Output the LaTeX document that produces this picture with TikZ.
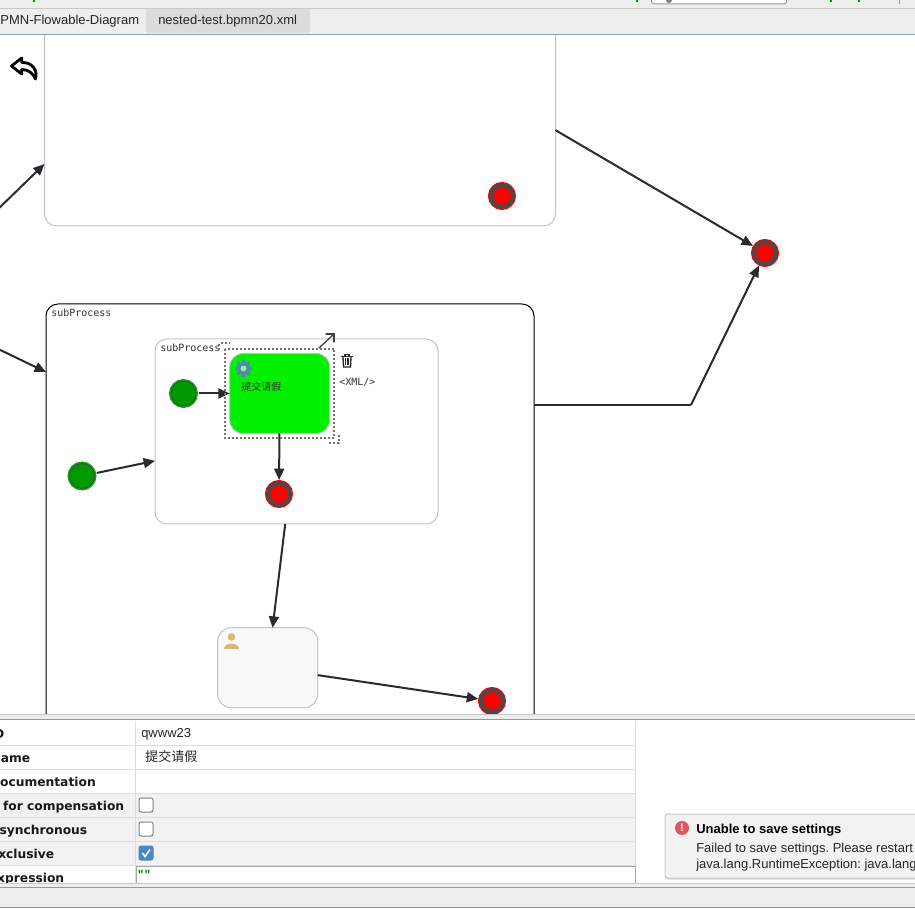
\documentclass[tikz,border=0pt]{standalone}
\usepackage{fontspec}
\usepackage{tikz}
\usetikzlibrary{positioning}
\usetikzlibrary{arrows.meta}
\usetikzlibrary{shapes.geometric}
\setmainfont{Liberation Sans}
\newfontfamily\uisans{Liberation Sans}
\newfontfamily\uibold{DejaVu Sans}[BoldFont={DejaVu Sans Bold}]
\newfontfamily\bpmnmono{DejaVu Sans Mono}
\newfontfamily\exprmono{Liberation Mono}
\newfontfamily\cjksc{Noto Sans CJK SC}
\frenchspacing

\definecolor{chromebg}{HTML}{EEEEEE}
\definecolor{chromeline}{HTML}{C8C8C8}
\definecolor{tabactive}{HTML}{DCDCDC}
\definecolor{sashblue}{HTML}{8E9DAB}
\definecolor{shapegray}{HTML}{C4C4C8}
\definecolor{flowdark}{HTML}{2B2B2F}
\definecolor{ringdark}{HTML}{4A4A4E}
\definecolor{taskgreen}{HTML}{00F000}
\definecolor{startgreen}{HTML}{009A00}
\definecolor{startring}{HTML}{0BA80B}
\definecolor{taskfill}{HTML}{FAF9F9}
\definecolor{usertan}{HTML}{D9B875}
\definecolor{gearblue}{HTML}{5B82B8}
\definecolor{rowgray}{HTML}{F2F2F2}
\definecolor{rowline}{HTML}{DDDDDD}
\definecolor{checkblue}{HTML}{4A86C8}
\definecolor{alertred}{HTML}{E05561}

\tikzset{
    subproc/.style={draw=shapegray, line width=0.75pt, fill=white, rounded corners=9pt,
        inner sep=0pt, outer sep=0pt},
    taskbox/.style={draw=shapegray, line width=0.75pt, rounded corners=10pt,
        minimum width=75pt, minimum height=60pt, inner sep=0pt, outer sep=0pt},
    startevent/.style={circle, fill=startgreen, draw=ringdark, line width=0.75pt,
        minimum size=18.75pt, inner sep=0pt, outer sep=1.9pt,
        preaction={draw=startring, line width=3pt}},
    endevent/.style={circle, fill=red, draw=ringdark, line width=3pt,
        minimum size=16.5pt, inner sep=0pt, outer sep=2.25pt,
        preaction={draw=red, line width=4.5pt}},
    flow/.style={draw=flowdark, line width=1.5pt,
        -{Stealth[length=8.5pt, width=7.5pt, inset=0pt]}},
    flowplain/.style={draw=flowdark, line width=1.5pt},
    monolabel/.style={font=\bpmnmono\fontsize{7.5}{9}\selectfont, text=black!80,
        anchor=base west, inner sep=0pt},
    handle/.style={draw=black!55, line width=1.5pt, dash pattern=on 1.5pt off 1.5pt},
    rowlabel/.style={font=\uibold\bfseries\fontsize{9.2}{11}\selectfont, text=black!90,
        anchor=base east, inner sep=0pt},
    rowvalue/.style={font=\uisans\fontsize{9.75}{11}\selectfont, text=black!85,
        anchor=base west, inner sep=0pt},
    uitext/.style={font=\uisans\fontsize{9.75}{11}\selectfont, text=black!85,
        anchor=base west, inner sep=0pt},
    checkbox/.style={draw=black!50, line width=0.75pt, fill=white, rounded corners=1.5pt,
        minimum size=10.5pt, inner sep=0pt, outer sep=0pt},
}

\begin{document}
\begin{tikzpicture}[x=0.75pt, y=-0.75pt]
    \useasboundingbox (0,0) rectangle (915,909);
    \fill[white] (0,0) rectangle (915,909);

    \node[subproc, minimum width=383.25pt, minimum height=366pt] (topsub) at (300,-18) {};
    \node[subproc, draw=black, minimum width=366pt, minimum height=444pt] (lowersub) at (290,600) {};
    \node[subproc, minimum width=212.25pt, minimum height=138.75pt] (innersub) at (296.5,431.5) {};

    \node[monolabel] (lowerlabel) at (51,317) {subProcess};
    \node[monolabel] (innerlabel) at (160,352) {subProcess};

    \node[taskbox, fill=taskgreen] (leavetask) at (279.7,393.5) {};
    \node[taskbox, fill=taskfill] (usertask) at (267.7,667.7) {};

    \node[startevent] (startouter) at (82,476) {};
    \node[startevent] (startinner) at (183.5,393.5) {};

    \node[endevent] (endtop) at (502,196) {};
    \node[endevent] (endright) at (765,253) {};
    \node[endevent] (endinner) at (279,494) {};
    \node[endevent] (endlower) at (492,701) {};

    \coordinate (srctop) at (-6,213);
    \coordinate (srclower) at (-6,347);
    \coordinate (topentry) at (0,164);
    \coordinate (lowerentry) at (0,372);
    \coordinate (bend) at (691,405);

    \draw[flow] (srctop) -- (topsub.west |- topentry);
    \draw[flow] (srclower) -- (lowersub.west |- lowerentry);
    \draw[flow] (topsub) -- (endright);
    \draw[flow] (startouter) -- (innersub);
    \draw[flow] (startinner) -- (leavetask);
    \draw[flow] (leavetask) -- (endinner);
    \draw[flow] (innersub) -- (usertask);
    \draw[flow] (usertask) -- (endlower);
    \draw[flowplain] (lowersub.east |- bend) -- (bend);
    \draw[flow] (bend) -- (endright);

    \draw[handle] (224.5,349) rectangle (334,438);
    \draw[handle] (219,350) -- (219,343.5) -- (229,343.5);
    \draw[handle] (329,443) -- (339,443) -- (339,433);

    \draw[draw=black!75, line width=1pt, line cap=round] (319,348) -- (334,334);
    \draw[draw=black!75, line width=1pt, line cap=round] (326,334) -- (334,334) -- (334,342);

    \draw[black!85, line width=1pt] (343,357) -- (343.5,367) -- (350.5,367) -- (351,357);
    \draw[black!85, line width=1pt] (341,356.5) -- (353,356.5);
    \draw[black!85, line width=1pt] (345,356) -- (345,354.5) -- (349,354.5) -- (349,356);
    \foreach \u in {345.6, 347, 348.4}
    {
        \draw[black!85, line width=0.6pt] (\u,358.5) -- (\u,365.5);
    }
    \node[monolabel] (xmllabel) at (339,385.5) {<XML/>};

    \foreach \u in {0, 45, 90, 135}
    {
        \draw[gearblue, line width=2pt] (243.5+8.5*cos \u,368.5-8.5*sin \u) -- (243.5-8.5*cos \u,368.5+8.5*sin \u);
    }
    \fill[gearblue] (243.5,368.5) circle[radius=6.5];
    \fill[taskgreen!45!white] (243.5,368.5) circle[radius=3];
    \node[font=\cjksc\fontsize{7.5}{9}\selectfont, text=black!80, anchor=base west, inner sep=0pt]
    (leavename) at (241,391) {提交请假};

    \fill[usertan] (231.5,637) circle[radius=3.8];
    \fill[usertan] (224,649) .. controls (224,641.5) and (239,641.5) .. (239,649) -- cycle;

    \draw[black, line width=2.1pt, line join=round, fill=white]
    (21.7,58) -- (11.5,66) -- (21.7,74) -- (21.7,69.5)
    .. controls (28,69.5) and (33,73) .. (35.5,79)
    .. controls (38,70) and (32,62) .. (21.7,62.5) -- cycle;

    \fill[chromebg] (0,0) rectangle (915,34);
    \draw[chromeline, line width=0.75pt] (0,8.5) -- (915,8.5);
    \fill[tabactive] (146,9) rectangle (310,33);
    \fill[sashblue] (0,33.7) rectangle (915,35.5);
    \fill[white, draw=black!40, line width=0.75pt, rounded corners=2pt]
    (651.5,-6) rectangle (786.5,4);
    \fill[gray] (669,0) circle[radius=3];
    \foreach \u in {34, 637, 831, 859}
    {
        \fill[green!60!black] (\u-1,0) rectangle (\u+1,2);
    }
    \draw[black!40, line width=0.75pt] (899.5,0) -- (899.5,4);
    \node[uitext] (tabdiagram) at (-8.5,25) {BPMN-Flowable-Diagram};
    \node[uitext] (tabxml) at (158,25) {nested-test.bpmn20.xml};

    \fill[white] (0,714) rectangle (915,885);
    \fill[chromebg] (0,714.5) rectangle (915,719);
    \draw[chromeline, line width=0.75pt] (0,714.5) -- (915,714.5);
    \draw[sashblue, line width=1pt] (0,719.5) -- (915,719.5);

    \fill[rowgray] (0,793.5) rectangle (635.5,865.5);
    \foreach \v in {745.5, 769.5, 793.5, 817.5, 841.5, 865.5}
    {
        \draw[rowline, line width=0.75pt] (0,\v) -- (635.5,\v);
    }
    \draw[rowline, line width=0.75pt] (135.5,721) -- (135.5,884);
    \draw[rowline, line width=0.75pt] (635.5,721) -- (635.5,884);

    \foreach \n/\v/\e/\t in {rowid/738/4.5/ID, rowname/762/30.5/Name, rowdoc/786/96/Documentation,
        rowcomp/810/124.5/Is for compensation, rowasync/834/87.5/Asynchronous,
        rowexcl/858/54.5/Exclusive, rowexpr/882/64.5/Expression}
    {
        \node[rowlabel] (\n) at (\e,\v) {\t};
    }

    \node[rowvalue] (valid) at (141,737) {qwww23};
    \node[font=\cjksc\fontsize{9.75}{11}\selectfont, text=black!85, anchor=base west, inner sep=0pt]
    (valname) at (145,761) {提交请假};

    \node[checkbox] (checkcomp) at (146,805) {};
    \node[checkbox] (checkasync) at (146,829) {};
    \node[checkbox, fill=checkblue, draw=checkblue] (checkexcl) at (146,853) {};
    \draw[white, line width=1.2pt] (142.5,853) -- (145,856.5) -- (150,849.5);

    \fill[white] (136.5,866) rectangle (635,885);
    \fill[chromebg] (0,884) rectangle (915,907);
    \draw[black!35, line width=0.75pt] (136.5,884) -- (136.5,866.5) -- (635,866.5) -- (635,884);
    \node[font=\exprmono\bfseries\fontsize{8.5}{11}\selectfont, text=green!45!black, anchor=base west, inner sep=0pt]
    (valexpr) at (137,878) {""};

    \draw[chromeline, line width=0.75pt] (0,883.5) -- (915,883.5);
    \draw[black!40, line width=0.75pt] (0,887.5) -- (915,887.5);
    \draw[black!40, line width=0.75pt] (0,907.5) -- (915,907.5);

    \fill[black!15, rounded corners=2pt] (665,815) rectangle (925,879.5);
    \draw[chromeline, fill=rowgray, line width=0.75pt, rounded corners=2pt] (665,814) rectangle (925,878);
    \node[circle, fill=alertred, text=white, minimum size=10.5pt, inner sep=0pt,
        font=\uisans\bfseries\fontsize{8.25}{9}\selectfont] (alerticon) at (682,828) {!};
    \node[uitext, font=\uisans\bfseries\fontsize{9.75}{11}\selectfont, text=black] (alerttitle) at (696,833) {Unable to save settings};
    \node[uitext] (alertone) at (696,852) {Failed to save settings. Please restart};
    \node[uitext] (alerttwo) at (696,868) {java.lang.RuntimeException: java.lang};
\end{tikzpicture}
\end{document}
